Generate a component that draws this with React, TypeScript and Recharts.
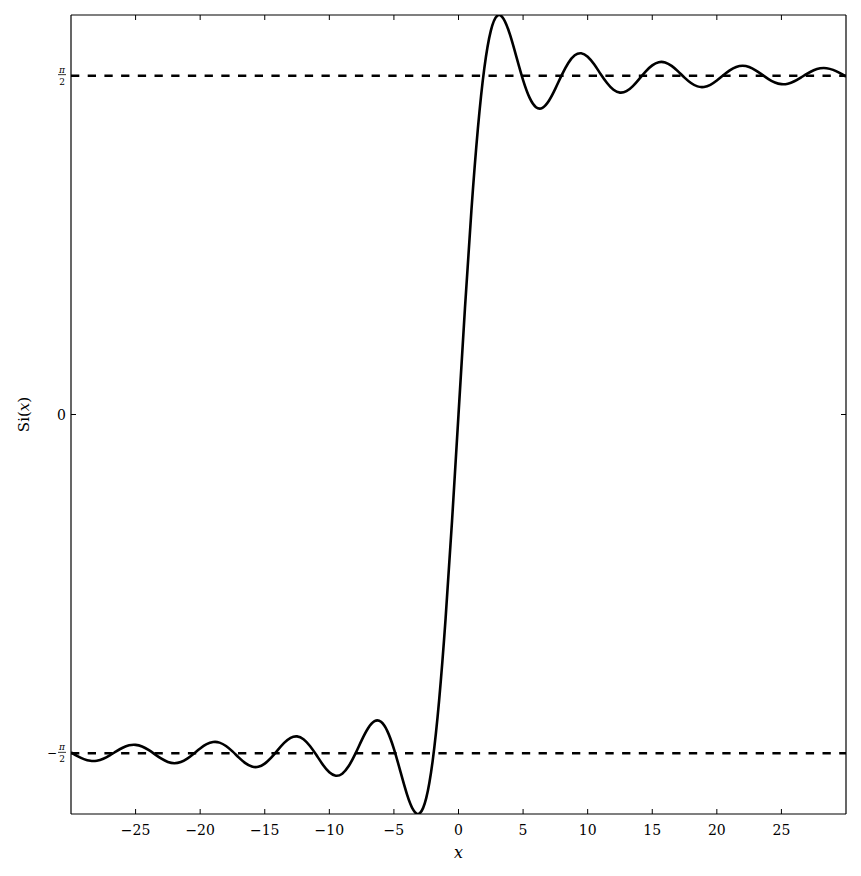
import { Line, LineChart, ReferenceLine, XAxis, YAxis } from "recharts";

// sample points, every 0.5 along x
const xValues = [
  -30, -29.5, -29, -28.5, -28, -27.5, -27, -26.5, -26, -25.5, -25, -24.5, -24,
  -23.5, -23, -22.5, -22, -21.5, -21, -20.5, -20, -19.5, -19, -18.5, -18, -17.5,
  -17, -16.5, -16, -15.5, -15, -14.5, -14, -13.5, -13, -12.5, -12, -11.5, -11,
  -10.5, -10, -9.5, -9, -8.5, -8, -7.5, -7, -6.5, -6, -5.5, -5, -4.5, -4, -3.5,
  -3, -2.5, -2, -1.5, -1, -0.5, 0, 0.5, 1, 1.5, 2, 2.5, 3, 3.5, 4, 4.5, 5, 5.5,
  6, 6.5, 7, 7.5, 8, 8.5, 9, 9.5, 10, 10.5, 11, 11.5, 12, 12.5, 13, 13.5, 14,
  14.5, 15, 15.5, 16, 16.5, 17, 17.5, 18, 18.5, 19, 19.5, 20, 20.5, 21, 21.5,
  22, 22.5, 23, 23.5, 24, 24.5, 25, 25.5, 26, 26.5, 27, 27.5, 28, 28.5, 29,
  29.5, 30,
];

const siValues = [
  -1.5668, -1.5833, -1.5974, -1.6053, -1.6048, -1.5959, -1.5803, -1.5618,
  -1.5448, -1.5336, -1.5314, -1.5389, -1.5547, -1.5753, -1.5955, -1.6106,
  -1.6163, -1.6108, -1.595, -1.5723, -1.5482, -1.5284, -1.5184, -1.521,
  -1.5365, -1.5615, -1.5905, -1.616, -1.6318, -1.6331, -1.6182, -1.5908,
  -1.556, -1.5223, -1.4987, -1.4922, -1.505, -1.5366, -1.5786, -1.6233,
  -1.6583, -1.6745, -1.665, -1.6296, -1.5742, -1.5107, -1.4546, -1.4218,
  -1.4247, -1.4687, -1.5499, -1.6541, -1.7582, -1.8331, -1.8487, -1.7785,
  -1.6054, -1.3247, -0.9461, -0.4931, 0, 0.4931, 0.9461, 1.3247, 1.6054,
  1.7785, 1.8487, 1.8331, 1.7582, 1.6541, 1.5499, 1.4687, 1.4247, 1.4218,
  1.4546, 1.5107, 1.5742, 1.6296, 1.665, 1.6745, 1.6583, 1.6233, 1.5786,
  1.5366, 1.505, 1.4922, 1.4987, 1.5223, 1.556, 1.5908, 1.6182, 1.6331,
  1.6318, 1.616, 1.5905, 1.5615, 1.5365, 1.521, 1.5184, 1.5284, 1.5482,
  1.5723, 1.595, 1.6108, 1.6163, 1.6106, 1.5955, 1.5753, 1.5547, 1.5389,
  1.5314, 1.5336, 1.5448, 1.5618, 1.5803, 1.5959, 1.6048, 1.6053, 1.5974,
  1.5833, 1.5668,
];

const xTicks = [-25, -20, -15, -10, -5, 0, 5, 10, 15, 20, 25];
const yTicks = [-Math.PI / 2, 0, Math.PI / 2];
const yTickLabels = ["−π/2", "0", "π/2"];
const asymptotes = [Math.PI / 2, -Math.PI / 2];

const data = xValues.map((x, i) => ({ x, y: siValues[i] }));

const FONT = "'DejaVu Serif', serif";
const TICK = 5;

const txt = (size: number, italic = false) => ({
  fontFamily: FONT,
  fontSize: size,
  fontStyle: italic ? "italic" : "normal",
  fill: "#000",
});

const fmtX = (v: number) => (v < 0 ? "\u2212" + Math.abs(v) : String(v));

const BottomTick = ({ x, y, payload }: any) => (
  <g>
    <line x1={x} y1={y} x2={x} y2={y - TICK} stroke="#000" strokeWidth={1} />
    <text x={x} y={y + 21} textAnchor="middle" style={txt(14)}>
      {fmtX(payload.value)}
    </text>
  </g>
);

const TopTick = ({ x, y }: any) => (
  <line x1={x} y1={y} x2={x} y2={y + TICK} stroke="#000" strokeWidth={1} />
);

const RightTick = ({ x, y }: any) => (
  <line x1={x} y1={y} x2={x - TICK} y2={y} stroke="#000" strokeWidth={1} />
);

const LeftTick = ({ x, y, index }: any) => {
  const label = yTickLabels[index] ?? "";
  const tick = <line x1={x} y1={y} x2={x + TICK} y2={y} stroke="#000" strokeWidth={1} />;
  if (!label.includes("/")) {
    return (
      <g>
        {tick}
        <text x={x - 5} y={y + 5} textAnchor="end" style={txt(14)}>
          {label}
        </text>
      </g>
    );
  }
  const neg = label.startsWith("−");
  const [num, den] = label.replace("−", "").split("/");
  const cx = x - 9;
  return (
    <g>
      {tick}
      {neg && (
        <text x={cx - 5} y={y + 4} textAnchor="end" style={txt(12)}>
          −
        </text>
      )}
      <text x={cx} y={y - 3} textAnchor="middle" style={txt(9, true)}>
        {num}
      </text>
      <line x1={cx - 4} y1={y - 1} x2={cx + 4} y2={y - 1} stroke="#000" strokeWidth={0.8} />
      <text x={cx} y={y + 9} textAnchor="middle" style={txt(9)}>
        {den}
      </text>
    </g>
  );
};

const YLabel = ({ viewBox }: any) => {
  const cx = 29;
  const cy = viewBox.y + viewBox.height / 2;
  return (
    <text
      x={cx}
      y={cy}
      transform={`rotate(-90 ${cx} ${cy})`}
      textAnchor="middle"
      style={txt(15)}
    >
      Si(<tspan style={{ fontStyle: "italic" }}>x</tspan>)
    </text>
  );
};

const XLabel = ({ viewBox }: any) => (
  <text
    x={viewBox.x + viewBox.width / 2}
    y={viewBox.y + 44}
    textAnchor="middle"
    style={txt(16, true)}
  >
    x
  </text>
);

const axisLine = { stroke: "#000", strokeWidth: 1.2 };

export default function App() {
  return (
    <div style={{ position: "absolute", left: 0, top: 0, background: "#fff" }}>
      <LineChart
        width={861}
        height={876}
        data={data}
        margin={{ top: 14, right: 14, bottom: 0, left: 0 }}
      >
        <XAxis
          xAxisId="bottom"
          dataKey="x"
          type="number"
          domain={[-30, 30]}
          ticks={xTicks}
          allowDataOverflow
          height={62}
          tickSize={0}
          tickMargin={0}
          tickLine={false}
          axisLine={axisLine}
          tick={<BottomTick />}
          label={(props: any) => <XLabel {...props} />}
        />
        <XAxis
          xAxisId="top"
          orientation="top"
          dataKey="x"
          type="number"
          domain={[-30, 30]}
          ticks={xTicks}
          allowDataOverflow
          height={1}
          tickSize={0}
          tickMargin={0}
          tickLine={false}
          axisLine={axisLine}
          tick={<TopTick />}
        />
        <YAxis
          yAxisId="left"
          type="number"
          domain={[-1.8519, 1.8519]}
          ticks={yTicks}
          allowDataOverflow
          width={71}
          tickSize={0}
          tickMargin={0}
          tickLine={false}
          axisLine={axisLine}
          tick={<LeftTick />}
          label={(props: any) => <YLabel {...props} />}
        />
        <YAxis
          yAxisId="right"
          orientation="right"
          type="number"
          domain={[-1.8519, 1.8519]}
          ticks={yTicks}
          allowDataOverflow
          width={1}
          tickSize={0}
          tickMargin={0}
          tickLine={false}
          axisLine={axisLine}
          tick={<RightTick />}
        />
        {asymptotes.map((v) => (
          <ReferenceLine
            key={v}
            xAxisId="bottom"
            yAxisId="left"
            y={v}
            stroke="#000"
            strokeWidth={2.5}
            strokeDasharray="8.3 8.4"
          />
        ))}
        <Line
          xAxisId="bottom"
          yAxisId="left"
          dataKey="y"
          type="natural"
          stroke="#000"
          strokeWidth={2.6}
          dot={false}
          isAnimationActive={false}
        />
      </LineChart>
    </div>
  );
}
